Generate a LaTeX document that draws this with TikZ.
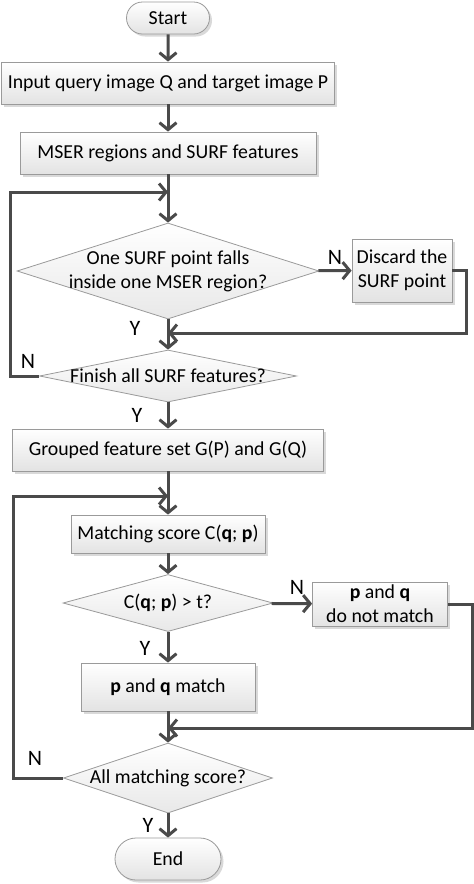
\documentclass[tikz,border=0pt]{standalone}
\usepackage{fontspec}
\setmainfont{Carlito}
\usepackage{tikz}
\usetikzlibrary{positioning, calc}
\usetikzlibrary{arrows.meta, shapes.geometric, shapes.misc, shadows}

\definecolor{linegray}{HTML}{4A4A4A}
\definecolor{edgegray}{HTML}{9A9A9A}

\tikzset{
  procbox/.style={draw=edgegray, line width=0.8pt, top color=white, bottom color=black!11,
    drop shadow={shadow xshift=2.5pt, shadow yshift=-2.5pt, fill=black!25, opacity=0.6},
    inner sep=0pt, align=center},
  decision/.style={diamond, draw=edgegray, line width=0.8pt, top color=white, bottom color=black!9,
    inner sep=-40pt, align=center},
  terminal/.style={rounded rectangle, draw=edgegray, line width=0.8pt, top color=white, bottom color=black!11,
    drop shadow={shadow xshift=2.5pt, shadow yshift=-2.5pt, fill=black!25, opacity=0.6},
    inner sep=0pt},
  flow/.style={draw=linegray, line width=3pt, -{Straight Barb[length=7pt, width=17pt]}},
  yn/.style={inner sep=0pt, text=black, font=\fontsize{22}{24}\selectfont}
}

\begin{document}
\begin{tikzpicture}[x=1pt, y=-1pt, font=\fontsize{19.8}{24}\selectfont]
  \useasboundingbox (0,0) rectangle (474,884);
  % first part: grouping SURF points into MSER regions
  \node[terminal, minimum width=83pt, minimum height=32pt] (start) at (168,18) {Start};
  \node[procbox, minimum width=333pt, minimum height=42pt] (input) at (168,83) {Input query image Q and target image P};
  \node[procbox, minimum width=296pt, minimum height=42pt] (mser) at (168,153) {MSER regions and SURF features};
  \node[decision, minimum width=302pt, minimum height=96pt] (surfin) at (168,271) {One SURF point falls\\inside one MSER region?};
  \node[procbox, minimum width=100pt, minimum height=63pt] (discard) at (402,270.5) {Discard the\\SURF point};
  \node[decision, minimum width=257pt, minimum height=52pt] (finish) at (168,376) {Finish all SURF features?};
  \node[procbox, minimum width=311pt, minimum height=42pt] (grouped) at (168,450) {Grouped feature set G(P) and G(Q)};
  % second part: matching
  \node[procbox, minimum width=194pt, minimum height=38pt] (score) at (168,534) {Matching score C(\textbf{q}; \textbf{p})};
  \node[decision, minimum width=210pt, minimum height=57pt] (thresh) at (168,603) {C(\textbf{q}; \textbf{p}) > t?};
  \node[procbox, minimum width=135pt, minimum height=44pt] (nomatch) at (380,604) {\textbf{p} and \textbf{q}\\do not match};
  \node[procbox, minimum width=174pt, minimum height=48pt] (match) at (168,687) {\textbf{p} and \textbf{q} match};
  \node[decision, minimum width=209pt, minimum height=70pt] (allscore) at (168,778) {All matching score?};
  \node[terminal, minimum width=106pt, minimum height=42pt] (end) at (168,859) {End};

  \coordinate (back1) at (168,192);
  \coordinate (join1) at (168,333);
  \coordinate (back2) at (168,496);
  \coordinate (join2) at (168,728);

  \node[yn] (n1) at (335,257) {N};
  \node[yn] (y1) at (135,328) {Y};
  \node[yn] (n2) at (28,361) {N};
  \node[yn] (y2) at (137,415) {Y};
  \node[yn] (n3) at (297,587) {N};
  \node[yn] (y3) at (145,648) {Y};
  \node[yn] (n4) at (35,758) {N};
  \node[yn] (y4) at (148,825) {Y};

  \draw[flow] (start) -- (input);
  \draw[flow] (input) -- (mser);
  \draw[flow] (mser) -- (surfin);
  \draw[flow] (surfin) -- (discard);
  \draw[flow] (discard.east) -- ++(14,0) |- (join1);
  \draw[flow] (surfin) -- (finish);
  \draw[flow] (finish.west) -- ++(-29,0) |- (back1);
  \draw[flow] (finish) -- (grouped);
  \draw[flow] (grouped) -- (score);
  \draw[flow] (score) -- (thresh);
  \draw[flow] (thresh) -- (nomatch);
  \draw[flow] (nomatch.east) -- ++(25,0) |- (join2);
  \draw[flow] (thresh) -- (match);
  \draw[flow] (match) -- (allscore);
  \draw[flow] (allscore.west) -- ++(-50,0) |- (back2);
  \draw[flow] (allscore) -- (end);
\end{tikzpicture}
\end{document}
